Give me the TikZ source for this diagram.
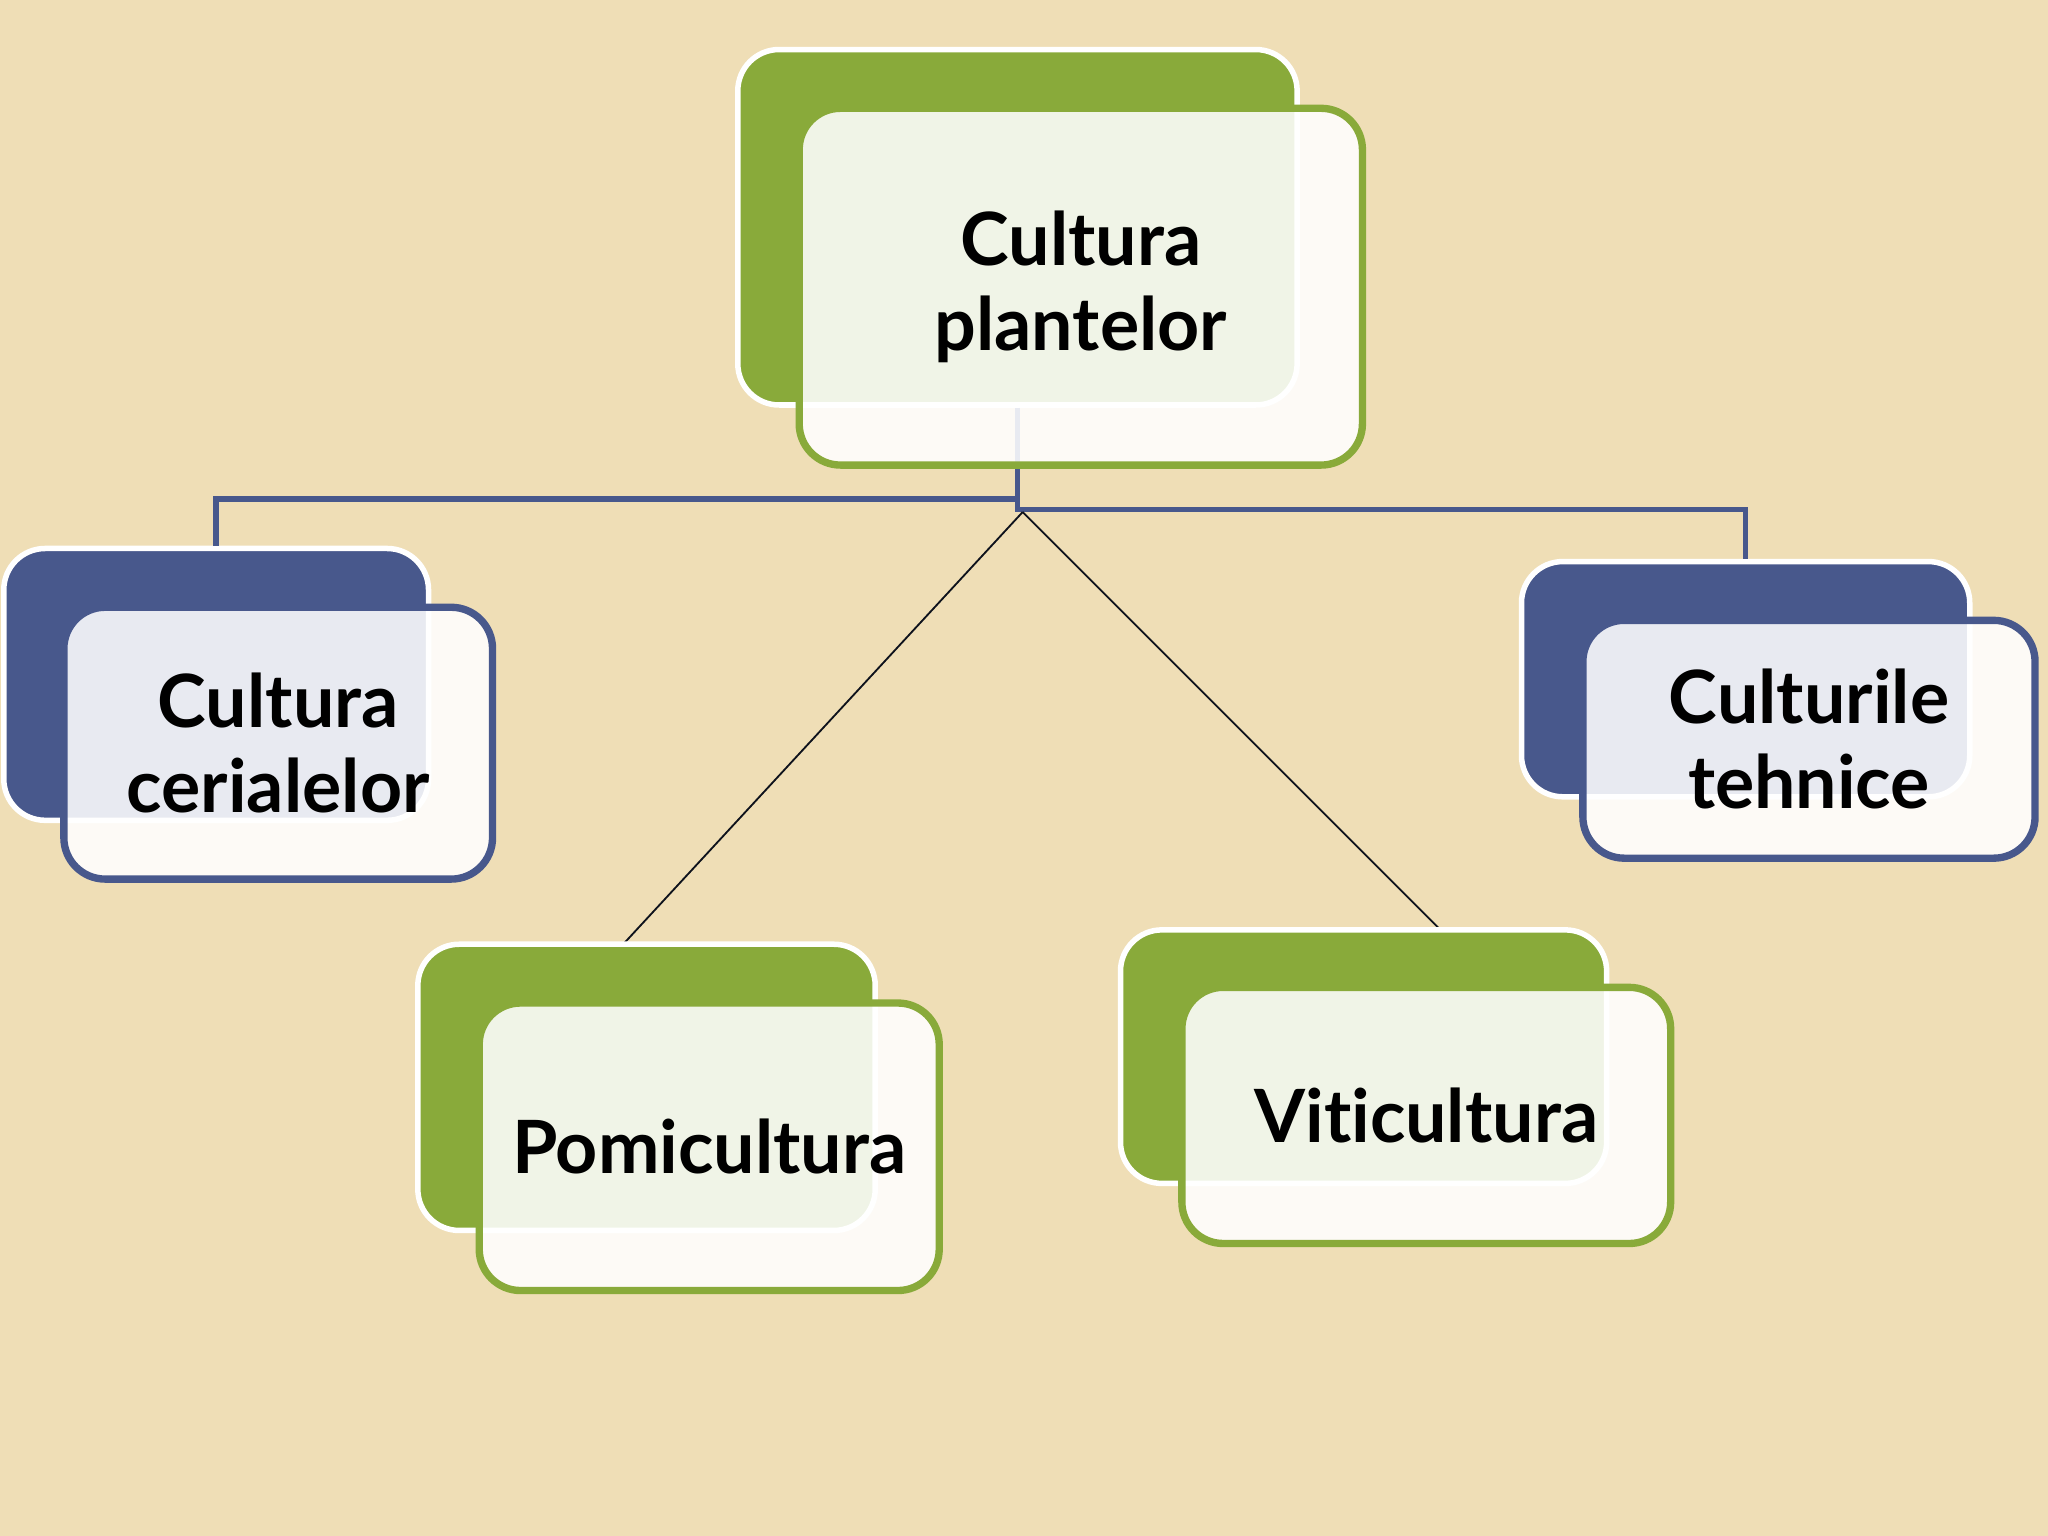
\documentclass[tikz,border=0pt]{standalone}
\usepackage{fontspec}
\setmainfont[Ligatures={NoCommon,NoDiscretionary,NoRare}]{Lato}
\definecolor{paper}{RGB}{239,222,182}
\definecolor{leaf}{RGB}{137,170,58}
\definecolor{slate}{RGB}{72,88,140}
\begin{document}
\begin{tikzpicture}[
	x=0.01cm,
	y=-0.01cm,
	backgreen/.style={
		rectangle,
		draw=white,
		very thick,
		rounded corners=9pt,
		fill=leaf
	},
	backblue/.style={
		rectangle,
		draw=white,
		very thick,
		rounded corners=9pt,
		fill=slate
	},
	frontgreen/.style={
		rectangle,
		draw=leaf,
		ultra thick,
		rounded corners=9pt,
		fill=white,
		fill opacity=0.88,
		text opacity=1,
		align=center,
		font=\fontsize{16}{18.5}\selectfont\bfseries
	},
	frontblue/.style={
		frontgreen,
		draw=slate
	},
]

\fill[paper] (0,0) rectangle (1568,1176);

% connectors
\node[backgreen, minimum width=4.28cm, minimum height=2.72cm] (plant_back) at (779,174) {};
\coordinate (hub) at (783,392);
\coordinate (pom_end) at (478,722);
\coordinate (viti_end) at (1113,722);
\node[backblue, minimum width=3.25cm, minimum height=2.08cm] (cer_back) at (165.5,524) {};
\node[backblue, minimum width=3.43cm, minimum height=1.80cm] (teh_back) at (1336.5,520) {};

\draw[slate, very thick] (plant_back.south) -- ++(0,70) -| (cer_back.north);
\draw[slate, very thick] (plant_back.south) -- ++(0,78) -| (teh_back.north);
\draw[black!80!slate, thin] (hub) -- (pom_end);
\draw[black!80!slate, thin] (hub) -- (viti_end);

% boxes
\node[frontgreen, minimum width=4.31cm, minimum height=2.73cm] (plant) at (827.5,219.5) {Cultura\\plantelor};
\node[frontblue, minimum width=3.28cm, minimum height=2.08cm] (cer) at (213,569) {Cultura\\cerialelor};
\node[frontblue, minimum width=3.46cm, minimum height=1.82cm] (teh) at (1385,566) {Culturile\\tehnice};

\node[backgreen, minimum width=3.50cm, minimum height=2.19cm] (pom_back) at (495,832.5) {};
\node[frontgreen, minimum width=3.52cm, minimum height=2.20cm] (pom) at (543,878) {Pomicultura};

\node[backgreen, minimum width=3.72cm, minimum height=1.94cm] (viti_back) at (1044,809) {};
\node[frontgreen, minimum width=3.74cm, minimum height=1.96cm] (viti) at (1092,854) {Viticultura};

\end{tikzpicture}
\end{document}
